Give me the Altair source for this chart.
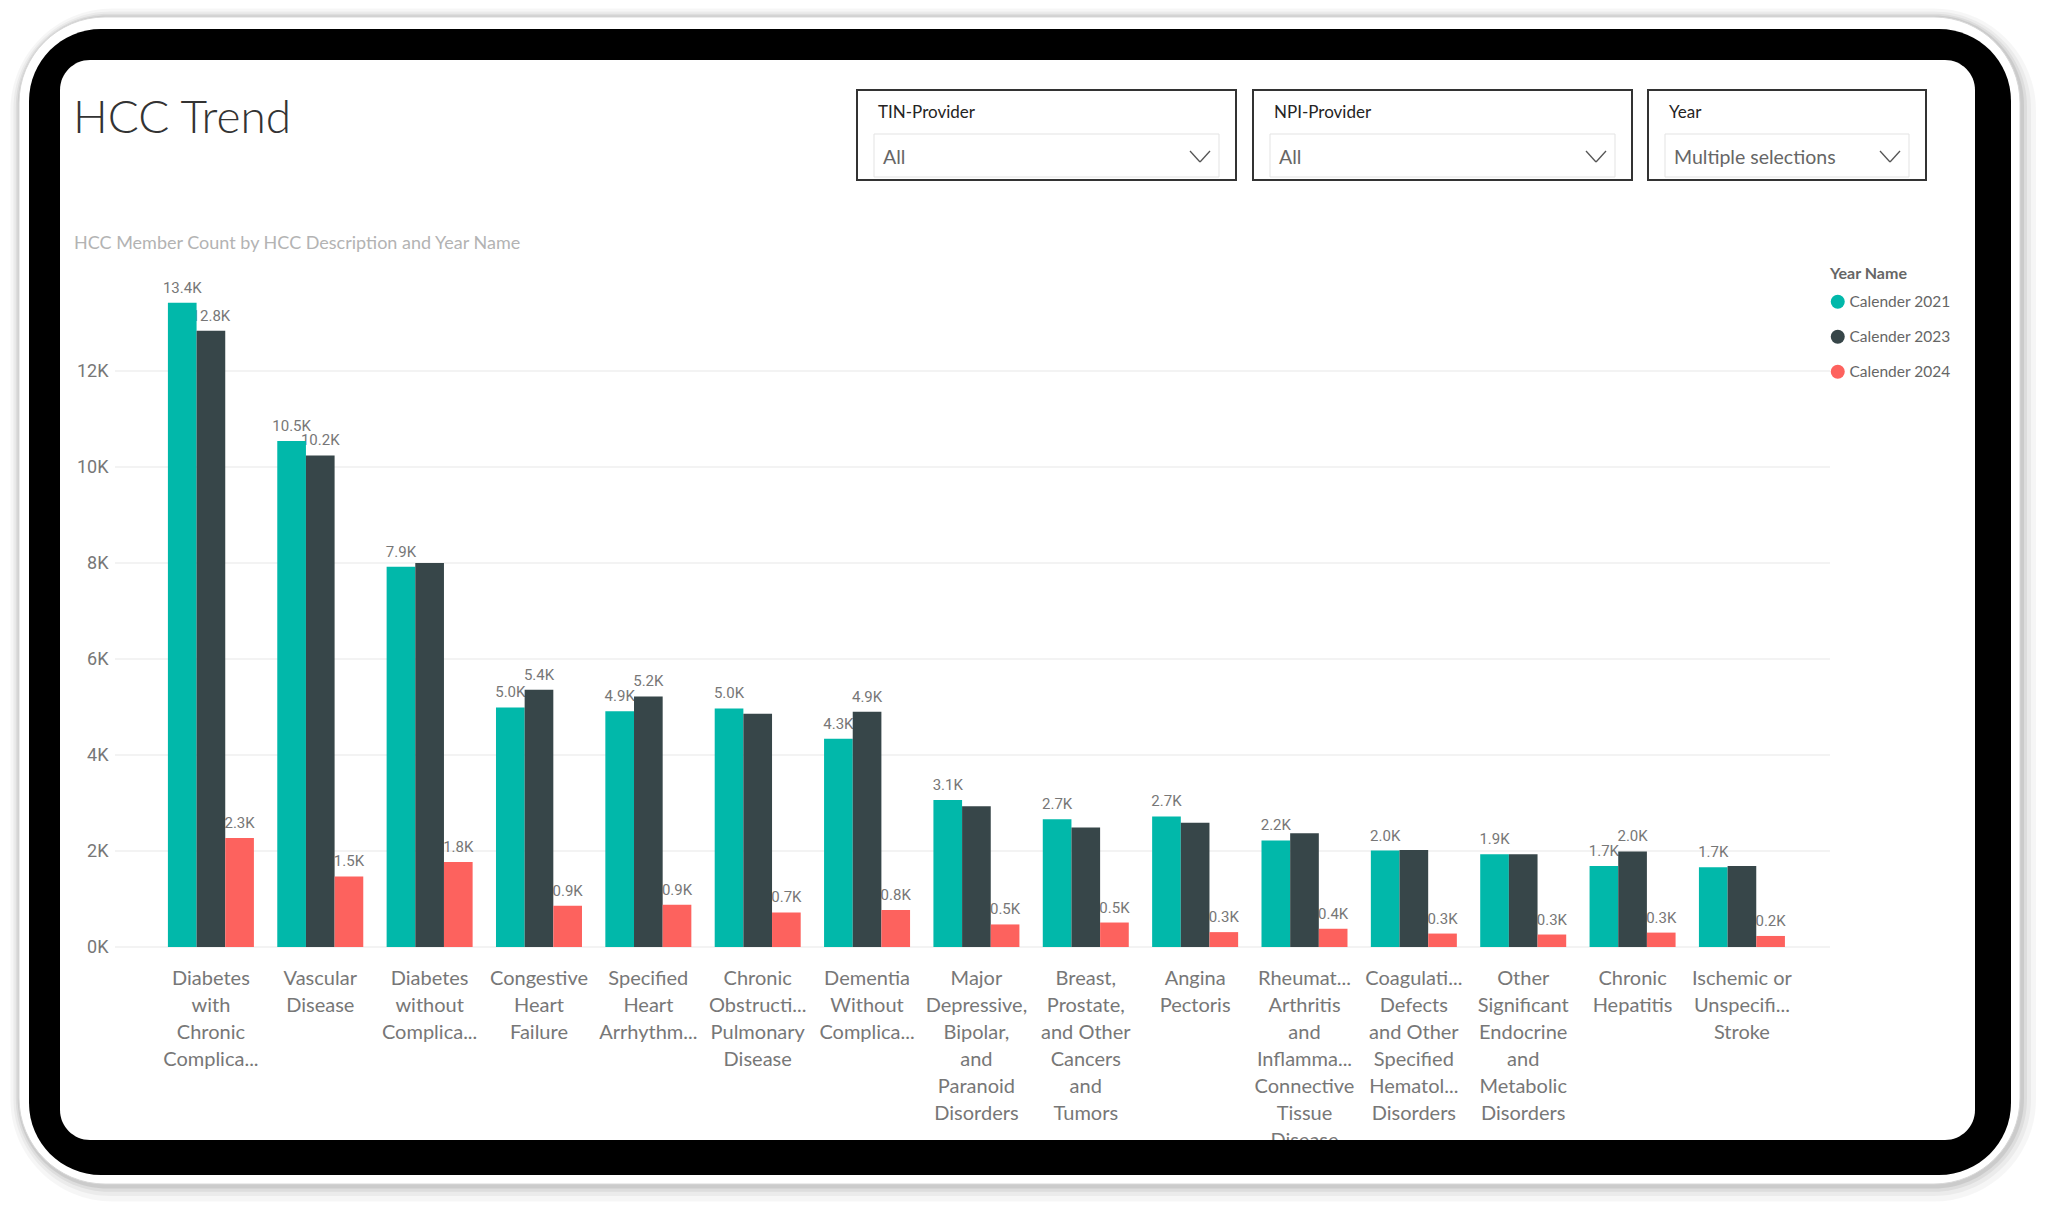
import altair as alt
import pandas as pd

# ---------------- data ----------------
categories = [
    "Diabetes|with|Chronic|Complica...",
    "Vascular|Disease",
    "Diabetes|without|Complica...",
    "Congestive|Heart|Failure",
    "Specified|Heart|Arrhythm...",
    "Chronic|Obstructi...|Pulmonary|Disease",
    "Dementia|Without|Complica...",
    "Major|Depressive,|Bipolar,|and|Paranoid|Disorders",
    "Breast,|Prostate,|and Other|Cancers|and|Tumors",
    "Angina|Pectoris",
    "Rheumat...|Arthritis|and|Inflamma...|Connective|Tissue|Disease",
    "Coagulati...|Defects|and Other|Specified|Hematol...|Disorders",
    "Other|Significant|Endocrine|and|Metabolic|Disorders",
    "Chronic|Hepatitis",
    "Ischemic or|Unspecifi...|Stroke",
]
years = ["Calender 2021", "Calender 2023", "Calender 2024"]
colors = ["#01B8AA", "#374649", "#FD625E"]

v2021 = [13420, 10540, 7920, 4990, 4910, 4970, 4340, 3060, 2660, 2720, 2220, 2010, 1930, 1690, 1660]
v2023 = [12840, 10240, 8000, 5360, 5220, 4860, 4900, 2930, 2490, 2590, 2370, 2020, 1930, 1990, 1690]
v2024 = [2270, 1470, 1770, 860, 880, 720, 770, 470, 510, 310, 380, 280, 260, 300, 230]

show2021 = [True] * 15
show2023 = [True, True, False, True, True, False, True, False, False, False, False, False, False, True, False]
show2024 = [True] * 15

y_ticks = [0, 2000, 4000, 6000, 8000, 10000, 12000]

title_text = "HCC Trend"
subtitle_text = "HCC Member Count by HCC Description and Year Name"
slicer_titles = ["TIN-Provider", "NPI-Provider", "Year"]
slicer_values = ["All", "All", "Multiple selections"]
legend_title = "Year Name"

# ---------------- table ----------------
rows = []
for i, c in enumerate(categories):
    for y, vals, shows in zip(years, [v2021, v2023, v2024], [show2021, show2023, show2024]):
        rows.append({"cat": c, "year": y, "value": vals[i], "show": shows[i]})
df = pd.DataFrame(rows)
cat_df = pd.DataFrame({"cat": categories})
grid_df = pd.DataFrame({"value": y_ticks})
one = pd.DataFrame({"k": [0]})

# ---------------- layout ----------------
OX, OY = 115, 275
W, H = 1715, 672
FONT = "Lato"


def box(x1, y1, x2, y2, **mk):
    return alt.Chart(one).mark_rect(**mk).encode(
        x=alt.value(x1 - OX), x2=alt.value(x2 - OX),
        y=alt.value(y1 - OY), y2=alt.value(y2 - OY))


def txt(t, x, y, **mk):
    return alt.Chart(one).mark_text(text=t, align="left", baseline="middle", **mk).encode(
        x=alt.value(x - OX), y=alt.value(y - OY))


def seg(x1, y1, x2, y2, **mk):
    return alt.Chart(one).mark_rule(**mk).encode(
        x=alt.value(x1 - OX), x2=alt.value(x2 - OX),
        y=alt.value(y1 - OY), y2=alt.value(y2 - OY))


layers = []
# device shadow
for d, op in [(16, 0.035), (11, 0.045), (7, 0.06), (4, 0.08)]:
    layers.append(box(20 - d * 0.6, 18 - d * 0.6, 2020 + d, 1184 + d * 1.1,
                      color="#000000", opacity=op, cornerRadius=86 + d))
layers.append(box(19, 17, 2020, 1184, color="#ffffff", stroke="#d8d8d8", strokeWidth=1, cornerRadius=86))
layers.append(box(29, 29, 2011, 1175, color="#000000", cornerRadius=72))
layers.append(box(60, 60, 1975, 1140, color="#ffffff", cornerRadius=30))

# titles
layers.append(txt(title_text, 73, 119, font=FONT, fontSize=46, fontWeight=300, color="#333333"))
layers.append(txt(subtitle_text, 74, 244, font=FONT, fontSize=18, color="#b3b3b3"))

# slicers
slicer_boxes = [(857, 1236), (1253, 1632), (1648, 1926)]
for (x1, x2), st, sv in zip(slicer_boxes, slicer_titles, slicer_values):
    layers.append(box(x1, 90, x2, 180, fill="#ffffff", stroke="#333333", strokeWidth=2))
    layers.append(box(x1 + 17, 134, x2 - 17, 177, fill="#ffffff", stroke="#e3e3e3", strokeWidth=1))
    layers.append(txt(st, x1 + 21, 113, font=FONT, fontSize=17, color="#252423"))
    layers.append(txt(sv, x1 + 26, 158, font=FONT, fontSize=19.5, color="#666666"))
    cx = x2 - 36
    layers.append(seg(cx - 10, 151, cx, 162, color="#555555", strokeWidth=1.3))
    layers.append(seg(cx, 162, cx + 10, 151, color="#555555", strokeWidth=1.3))

# ---------------- chart ----------------
x_enc = alt.X("cat:N", sort=categories,
              scale=alt.Scale(paddingInner=0.2136, paddingOuter=0.448, align=0.54), axis=None)
xoff = alt.XOffset("year:N", sort=years, scale=alt.Scale(paddingInner=0, paddingOuter=0))
y_scale = alt.Scale(domain=[0, 14000], nice=False, zero=True)
y_axis = alt.Axis(title=None, values=y_ticks, labelExpr="datum.value/1000 + 'K'", grid=False,
                  ticks=False, domain=False, labelFont="Roboto", labelFontSize=18,
                  labelColor="#777777", labelPadding=7, zindex=1)
y_enc = alt.Y("value:Q", scale=y_scale, axis=y_axis)

grid = alt.Chart(grid_df).mark_rule(color="#e8e8e8", strokeWidth=1.2).encode(
    y=y_enc, x=alt.value(0), x2=alt.value(W))

labels = alt.Chart(df).transform_filter("datum.show").transform_calculate(
    lbl="format(datum.value/1000, '.1f') + 'K'"
).mark_text(font="Roboto", fontSize=15, color="#777777", baseline="alphabetic", dy=-10).encode(
    x=x_enc, xOffset=xoff, y=y_enc, text="lbl:N")

bars = alt.Chart(df).mark_bar().encode(
    x=x_enc, xOffset=xoff, y=y_enc,
    color=alt.Color("year:N", sort=years, scale=alt.Scale(domain=years, range=colors),
                    legend=alt.Legend(title=legend_title, orient="none", legendX=1715, legendY=-9,
                                      direction="vertical", symbolType="circle", symbolSize=196,
                                      symbolStrokeWidth=0, titleFont=FONT, titleFontSize=16,
                                      titleFontWeight="bold", titleColor="#666666",
                                      labelFont=FONT, labelFontSize=15.5, labelColor="#666666",
                                      titlePadding=12, rowPadding=18, labelOffset=4, padding=0,
                                      zindex=1)))

xlabels = alt.Chart(cat_df).mark_text(font=FONT, fontSize=20, color="#777777", lineBreak="|",
                                      lineHeight=27, baseline="top", align="center").encode(
    x=x_enc, y=alt.value(H + 22), text="cat:N")

layers += [grid, labels, bars, xlabels]
# bottom bezel cover (clips overflowing labels)
layers.append(box(90, 1140, 1945, 1172, color="#000000"))

chart = alt.layer(*layers).properties(
    width=W, height=H,
    autosize=alt.AutoSizeParams(type="none"),
    padding={"left": OX, "top": OY, "right": 2048 - OX - W, "bottom": 1212 - OY - H},
    background="#ffffff",
).configure_view(strokeWidth=0)

chart.save("out.html", embed_options={"renderer": "svg", "actions": False})
